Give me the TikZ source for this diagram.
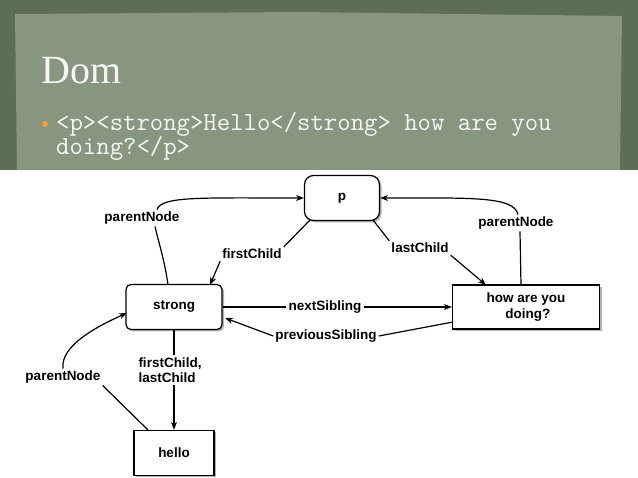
\documentclass[tikz,border=0pt]{standalone}
\usepackage{fontspec}
\setmainfont{Liberation Sans}
\newfontfamily\titlefont{Liberation Serif}
\newfontfamily\codefont{Latin Modern Mono}
\usetikzlibrary{arrows.meta,shadows}
\definecolor{bgdark}{HTML}{5E6E55}
\definecolor{paper}{HTML}{88957F}
\definecolor{dot}{HTML}{F0A040}
\begin{document}
\begin{tikzpicture}[x=1pt,y=-1pt,
  box/.style={draw,line width=1.2pt,fill=white,minimum height=45pt,font=\bfseries\fontsize{13.5}{16}\selectfont,align=center,drop shadow={shadow xshift=2pt,shadow yshift=-2pt,fill=black!30,opacity=1}},
  lbl/.style={fill=white,inner sep=2pt,font=\bfseries\fontsize{13.5}{15}\selectfont,align=left},
  arr/.style={line width=1.2pt,-{Stealth[length=8pt,width=6pt]}},
  ln/.style={line width=1.2pt}]
\useasboundingbox (0,0) rectangle (638,478);
\fill[bgdark] (0,0) rectangle (638,170);
\fill[paper] (15,14) -- (300,12) -- (622,16) -- (620,170) -- (17,170) -- cycle;
\fill[white] (0,170) rectangle (638,478);
\node[anchor=base west,text=white!92!paper,font=\titlefont\fontsize{40}{46}\selectfont] (title) at (38,84) {Dom};
\fill[dot] (45,124) circle (3pt);
\node[anchor=base west,text=white!92!paper,font=\codefont\fontsize{26}{28}\selectfont,inner sep=0] (l1) at (56,131) {<p><strong>Hello</strong> how are you};
\node[anchor=base west,text=white!92!paper,font=\codefont\fontsize{26}{28}\selectfont,inner sep=0] (l2) at (56,155) {doing?</p>};
% nodes
\node[box,rounded corners=9pt,minimum width=75pt] (p) at (342,198) {p};
\node[box,rounded corners=5pt,minimum width=96pt] (strong) at (174,307) {strong};
\node[box,minimum width=147pt,minimum height=44pt] (how) at (526,307) {how are you\\ \ doing?};
\node[box,minimum width=80pt] (hello) at (174,453) {hello};
% labels
\node[lbl] (pn1) at (142,218) {parentNode};
\node[lbl] (fc) at (252,254) {firstChild};
\node[lbl] (lc) at (420,248) {lastChild};
\node[lbl] (pn2) at (516,223) {parentNode};
\node[lbl] (ns) at (325,307) {nextSibling};
\node[lbl] (ps) at (326,336) {previousSibling};
\node[lbl] (fl) at (170,370) {firstChild,\\lastChild};
\node[lbl] (pn3) at (63,377) {parentNode};
% edges
\draw[ln] (168,285) .. controls (165,262) and (158,240) .. (pn1.south -| 155,0);
\draw[arr] (pn1.north -| 157,0) .. controls (162,196) and (200,198) .. (p.west);
\draw[ln] (310,220) -- (fc.north east);
\draw[arr] (fc.south west) -- (210,285);
\draw[ln] (373,220) -- (lc.north west);
\draw[arr] (lc.south east) -- (486,285);
\draw[ln] (521,285) -- (pn2.south -| 520,0);
\draw[arr] (pn2.north -| 518,0) .. controls (514,196) and (470,198) .. (p.east);
\draw[ln] (strong.east) -- (ns.west);
\draw[arr] (ns.east) -- (how.west);
\draw[ln] (453,322) -- (ps.east);
\draw[arr] (ps.west) -- (225,318);
\draw[ln] (strong.south) -- (fl.north -| strong.south);
\draw[arr] (fl.south -| strong.south) -- (hello.north);
\draw[ln] (148,430) -- (pn3.south east);
\draw[arr] (pn3.north) .. controls (60,345) and (100,325) .. (127,313);
\end{tikzpicture}
\end{document}
